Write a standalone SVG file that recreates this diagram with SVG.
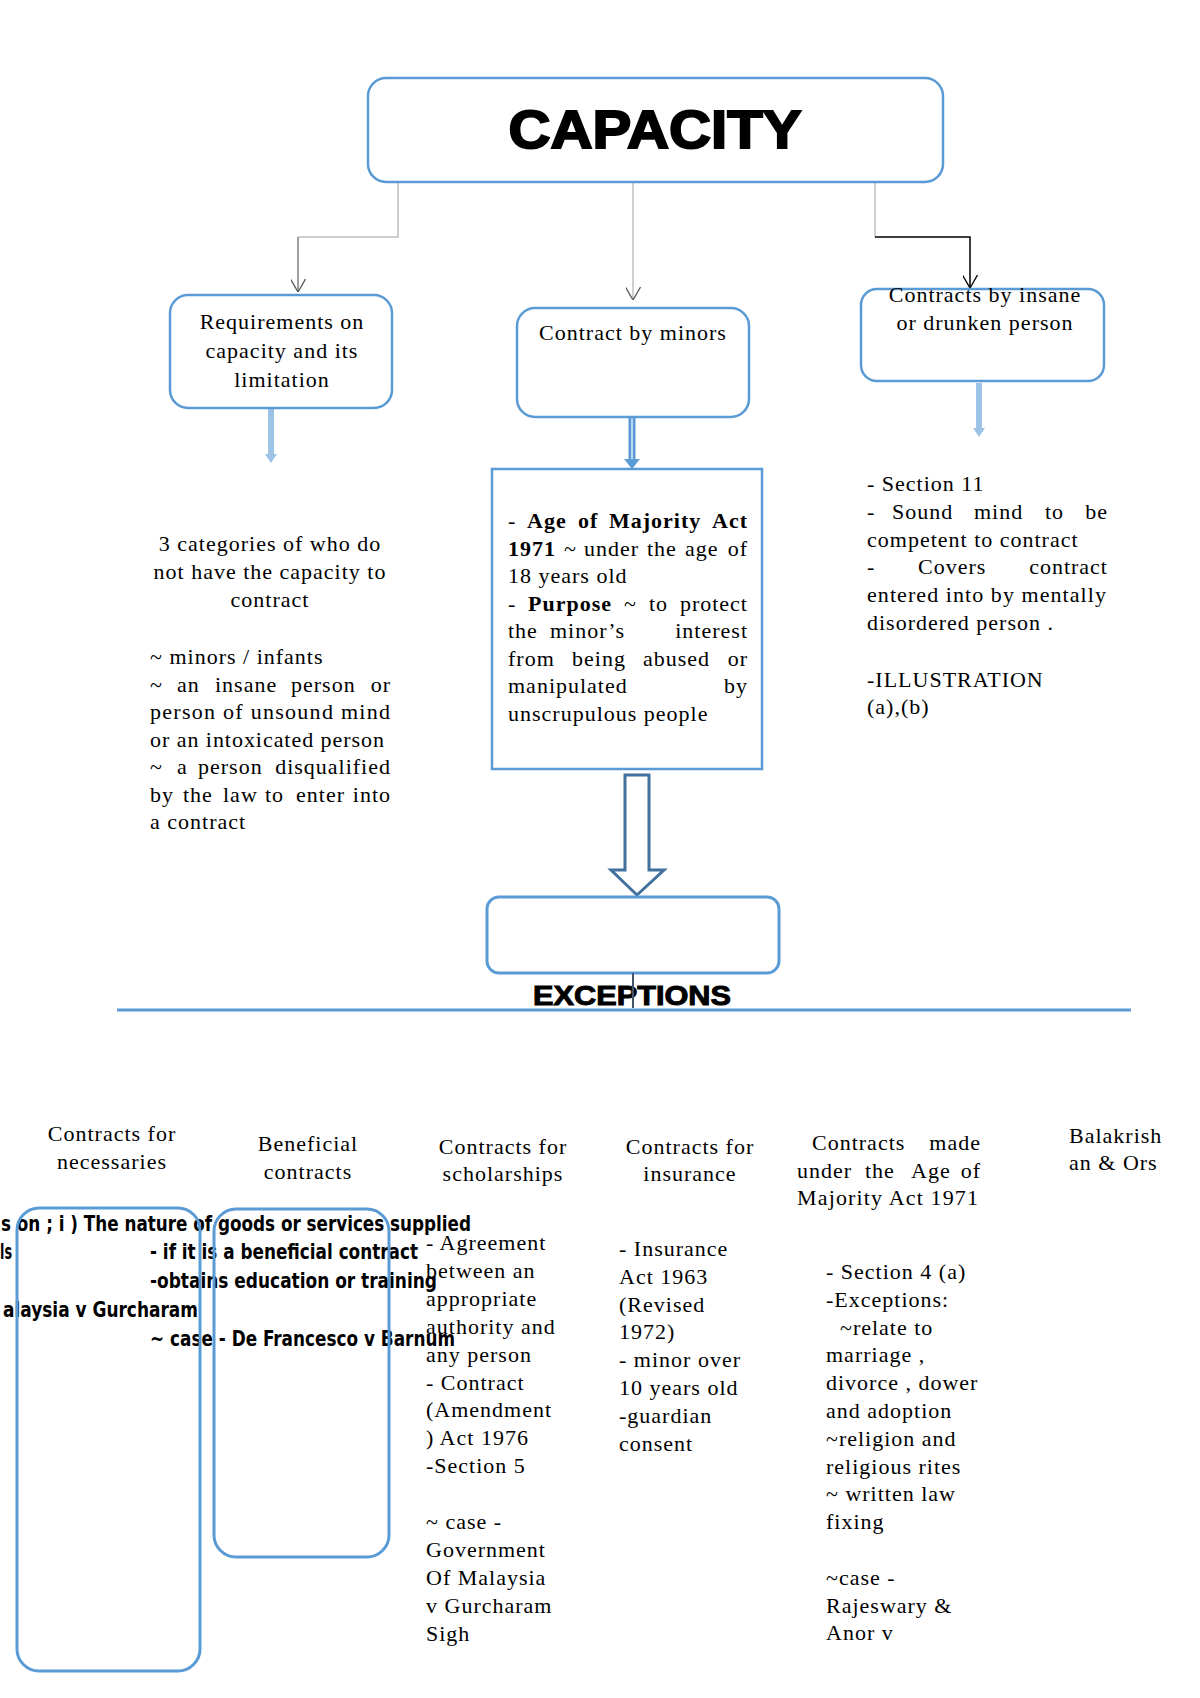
<svg xmlns="http://www.w3.org/2000/svg" width="1200" height="1698" viewBox="0 0 1200 1698">
<defs>
<style>
.t{font-family:"Liberation Serif","Times New Roman",serif;font-size:22px;letter-spacing:1px;fill:#000}
.b{font-weight:bold}
.c{text-anchor:middle}
.e{text-anchor:end}
.box{fill:#fff;stroke:#5b9bd5;stroke-width:2.5}
.obox{fill:none;stroke:#5b9bd5;stroke-width:3}
.cal{font-family:"Liberation Sans Narrow","DejaVu Sans Condensed","Liberation Sans",sans-serif;font-size:21px;font-weight:bold;fill:#000}
.hd{font-family:"Liberation Sans","Arial",sans-serif;font-weight:bold;fill:#000;stroke:#000}
.lg{fill:none;stroke:#bfbfbf;stroke-width:1.5}
.dg{fill:none;stroke:#7f7f7f;stroke-width:1.5}
.bk{fill:none;stroke:#000;stroke-width:1.5}
.lb{stroke:#9dc3e6;stroke-width:6}
</style>
<marker id="chevG" viewBox="0 0 13 15" refX="13" refY="7.5" markerWidth="13" markerHeight="15" markerUnits="userSpaceOnUse" orient="auto">
<path d="M0,0 L13,7.5 L0,15" fill="none" stroke="#595959" stroke-width="1.3"/>
</marker>
<marker id="chevK" viewBox="0 0 13 15" refX="13" refY="7.5" markerWidth="13" markerHeight="15" markerUnits="userSpaceOnUse" orient="auto">
<path d="M0,0 L13,7.5 L0,15" fill="none" stroke="#000" stroke-width="1.3"/>
</marker>
</defs>
<rect width="1200" height="1698" fill="#fff"/>

<g id="connectors">
<polyline class="lg" points="398,182 398,237 298,237"/>
<line class="dg" x1="298" y1="237" x2="298" y2="292" marker-end="url(#chevG)"/>
<line class="lg" x1="633" y1="182" x2="633" y2="300" marker-end="url(#chevG)"/>
<line class="lg" x1="875" y1="182" x2="875" y2="237"/>
<polyline class="bk" points="875,237 970,237 970,288" marker-end="url(#chevK)"/>
<line class="lb" x1="271" y1="409" x2="271" y2="455"/>
<polygon points="265,454 277,454 271,463" fill="#9dc3e6"/>
<line class="lb" x1="979" y1="383" x2="979" y2="429"/>
<polygon points="973,428 985,428 979,437" fill="#9dc3e6"/>
<line x1="632" y1="417" x2="632" y2="461" stroke="#5b9bd5" stroke-width="7"/>
<line x1="632" y1="417" x2="632" y2="459" stroke="#bdd7ee" stroke-width="2"/>
<polygon points="624,459 640,459 632,469" fill="#5b9bd5"/>
<path d="M625,775 L649,775 L649,870 L664,870 L637,895 L611,870 L625,870 Z" fill="#fff" stroke="#41719c" stroke-width="3" stroke-linejoin="miter"/>
</g>

<g id="capacity">
<rect class="box" x="368" y="78" width="575" height="104" rx="18"/>
<text class="hd" x="655" y="148" font-size="54" stroke-width="2" text-anchor="middle" textLength="293" lengthAdjust="spacingAndGlyphs">CAPACITY</text>
</g>

<g id="requirements">
<rect class="box" x="170" y="295" width="222" height="113" rx="18"/>
<text class="t c" x="282" y="329">Requirements on</text>
<text class="t c" x="282" y="358">capacity and its</text>
<text class="t c" x="282" y="387">limitation</text>
</g>

<g id="minors">
<rect class="box" x="517" y="308" width="232" height="109" rx="18"/>
<text class="t c" x="633" y="340">Contract by minors</text>
</g>

<g id="insane">
<rect class="box" x="861" y="289" width="243" height="92" rx="16"/>
<text class="t c" x="985" y="302">Contracts by insane</text>
<text class="t c" x="985" y="330">or drunken person</text>
</g>

<g id="categories">
<text class="t c" x="270" y="551">3 categories of who do</text>
<text class="t c" x="270" y="579">not have the capacity to</text>
<text class="t c" x="270" y="607">contract</text>
<text class="t" x="150" y="664">~ minors / infants</text>
<text class="t" x="150" y="691.5">~</text><text class="t" x="177" y="691.5">an</text><text class="t" x="215" y="691.5">insane</text><text class="t" x="291" y="691.5">person</text><text class="t e" x="391" y="691.5">or</text>
<text class="t" x="150" y="719" textLength="241" lengthAdjust="spacing">person of unsound mind</text>
<text class="t" x="150" y="746.5" textLength="235" lengthAdjust="spacing">or an intoxicated person</text>
<text class="t" x="150" y="774">~</text><text class="t" x="177" y="774">a</text><text class="t" x="198" y="774">person</text><text class="t e" x="391" y="774">disqualified</text>
<text class="t" x="150" y="801.5">by</text><text class="t" x="183" y="801.5">the</text><text class="t" x="223" y="801.5">law</text><text class="t" x="265" y="801.5">to</text><text class="t" x="296" y="801.5">enter</text><text class="t e" x="391" y="801.5">into</text>
<text class="t" x="150" y="829">a contract</text>
</g>

<g id="majority-act">
<rect class="box" x="492" y="469" width="270" height="300" rx="0"/>
<text class="t" x="508" y="528">-</text><text class="t b" x="527" y="528">Age</text><text class="t b" x="578" y="528">of</text><text class="t b" x="609" y="528">Majority</text><text class="t b e" x="748" y="528">Act</text>
<text class="t b" x="508" y="556">1971</text><text class="t" x="564" y="556">~</text><text class="t" x="584" y="556">under</text><text class="t" x="647" y="556">the</text><text class="t" x="685" y="556">age</text><text class="t e" x="748" y="556">of</text>
<text class="t" x="508" y="583">18 years old</text>
<text class="t" x="508" y="611">-</text><text class="t b" x="528" y="611">Purpose</text><text class="t" x="624" y="611">~</text><text class="t" x="649" y="611">to</text><text class="t e" x="748" y="611">protect</text>
<text class="t" x="508" y="638">the</text><text class="t" x="550" y="638">minor’s</text><text class="t e" x="748" y="638">interest</text>
<text class="t" x="508" y="666">from</text><text class="t" x="572" y="666">being</text><text class="t" x="643" y="666">abused</text><text class="t e" x="748" y="666">or</text>
<text class="t" x="508" y="693">manipulated</text><text class="t e" x="748" y="693">by</text>
<text class="t" x="508" y="721">unscrupulous people</text>
</g>

<g id="section11">
<text class="t" x="867" y="491">- Section 11</text>
<text class="t" x="867" y="519">-</text><text class="t" x="892" y="519">Sound</text><text class="t" x="974" y="519">mind</text><text class="t" x="1045" y="519">to</text><text class="t e" x="1108" y="519">be</text>
<text class="t" x="867" y="547">competent to contract</text>
<text class="t" x="867" y="574">-</text><text class="t" x="918" y="574">Covers</text><text class="t e" x="1108" y="574">contract</text>
<text class="t" x="867" y="602" textLength="240" lengthAdjust="spacing">entered into by mentally</text>
<text class="t" x="867" y="630">disordered person .</text>
<text class="t" x="867" y="687">-ILLUSTRATION</text>
<text class="t" x="867" y="714">(a),(b)</text>
</g>

<g id="exceptions">
<rect class="obox" x="487" y="897" width="292" height="76" rx="12" fill="#fff"/>
<text class="hd" x="632" y="1005" font-size="28" stroke-width="1" text-anchor="middle" textLength="198" lengthAdjust="spacingAndGlyphs">EXCEPTIONS</text>
<line x1="633" y1="973" x2="633" y2="1008" stroke="#44546a" stroke-width="2"/>
<line x1="117" y1="1010" x2="1131" y2="1010" stroke="#5b9bd5" stroke-width="3"/>
</g>

<g id="necessaries">
<text class="t c" x="112" y="1141">Contracts for</text>
<text class="t c" x="112" y="1169">necessaries</text>
</g>

<g id="beneficial">
<text class="t c" x="308" y="1151">Beneficial</text>
<text class="t c" x="308" y="1179">contracts</text>
</g>

<g id="notes-bold">
<text class="cal" x="1" y="1231" textLength="470" lengthAdjust="spacingAndGlyphs">s on ; i ) The nature of goods or services supplied</text>
<text class="cal" x="0" y="1259" textLength="12" lengthAdjust="spacingAndGlyphs">ls</text>
<text class="cal" x="150" y="1259" textLength="268" lengthAdjust="spacingAndGlyphs">- if it is a beneficial contract</text>
<text class="cal" x="150" y="1288" textLength="287" lengthAdjust="spacingAndGlyphs">-obtains education or training</text>
<text class="cal" x="3" y="1317" textLength="195" lengthAdjust="spacingAndGlyphs">alaysia v Gurcharam</text>
<text class="cal" x="150" y="1346" textLength="305" lengthAdjust="spacingAndGlyphs">~ case - De Francesco v Barnum</text>
</g>

<g id="bottom-boxes">
<rect class="obox" x="17" y="1208" width="183" height="463" rx="22"/>
<rect class="obox" x="214" y="1209" width="175" height="348" rx="22"/>
</g>

<g id="scholarships">
<text class="t c" x="503" y="1154">Contracts for</text>
<text class="t c" x="503" y="1181">scholarships</text>
<text class="t" x="426" y="1250">- Agreement</text>
<text class="t" x="426" y="1278">between an</text>
<text class="t" x="426" y="1306">appropriate</text>
<text class="t" x="426" y="1334">authority and</text>
<text class="t" x="426" y="1362">any person</text>
<text class="t" x="426" y="1390">- Contract</text>
<text class="t" x="426" y="1417">(Amendment</text>
<text class="t" x="426" y="1445">) Act 1976</text>
<text class="t" x="426" y="1473">-Section 5</text>
<text class="t" x="426" y="1529">~ case -</text>
<text class="t" x="426" y="1557">Government</text>
<text class="t" x="426" y="1585">Of Malaysia</text>
<text class="t" x="426" y="1613">v Gurcharam</text>
<text class="t" x="426" y="1641">Sigh</text>
</g>

<g id="insurance">
<text class="t c" x="690" y="1154">Contracts for</text>
<text class="t c" x="690" y="1181">insurance</text>
<text class="t" x="619" y="1256">- Insurance</text>
<text class="t" x="619" y="1284">Act 1963</text>
<text class="t" x="619" y="1312">(Revised</text>
<text class="t" x="619" y="1339">1972)</text>
<text class="t" x="619" y="1367">- minor over</text>
<text class="t" x="619" y="1395">10 years old</text>
<text class="t" x="619" y="1423">-guardian</text>
<text class="t" x="619" y="1451">consent</text>
</g>

<g id="age-majority">
<text class="t" x="812" y="1150">Contracts</text><text class="t e" x="981" y="1150">made</text>
<text class="t" x="797" y="1178">under</text><text class="t" x="865" y="1178">the</text><text class="t" x="911" y="1178">Age</text><text class="t e" x="981" y="1178">of</text>
<text class="t" x="797" y="1205" textLength="182" lengthAdjust="spacing">Majority Act 1971</text>
<text class="t" x="826" y="1279">- Section 4 (a)</text>
<text class="t" x="826" y="1307">-Exceptions:</text>
<text class="t" x="840" y="1335">~relate to</text>
<text class="t" x="826" y="1362">marriage ,</text>
<text class="t" x="826" y="1390">divorce , dower</text>
<text class="t" x="826" y="1418">and adoption</text>
<text class="t" x="826" y="1446">~religion and</text>
<text class="t" x="826" y="1474">religious rites</text>
<text class="t" x="826" y="1501">~ written law</text>
<text class="t" x="826" y="1529">fixing</text>
<text class="t" x="826" y="1585">~case -</text>
<text class="t" x="826" y="1613">Rajeswary &amp;</text>
<text class="t" x="826" y="1640">Anor v</text>
</g>

<g id="balakrishnan">
<text class="t" x="1069" y="1143">Balakrish</text>
<text class="t" x="1069" y="1170">an &amp; Ors</text>
</g>
</svg>
